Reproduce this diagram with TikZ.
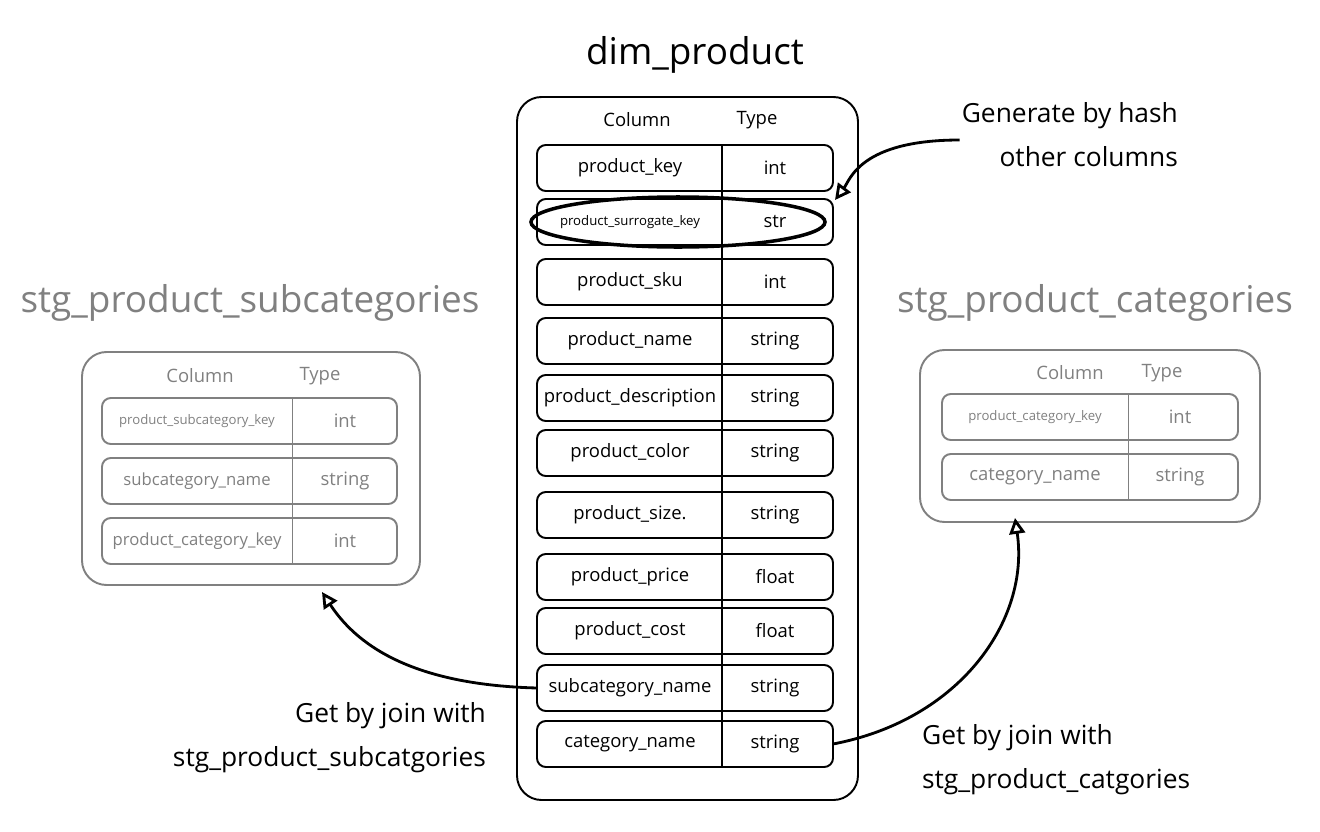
\documentclass[tikz,border=0pt]{standalone}
\usepackage{fontspec}
\setmainfont{Open Sans}
\usetikzlibrary{positioning, calc, arrows.meta}
\begin{document}
\begin{tikzpicture}[x=0.02cm, y=-0.02cm,
    every node/.style={inner sep=1pt},
    frame/.style={draw, rounded corners=14pt, line width=1.1pt},
    row/.style={draw, rounded corners=5pt, line width=1.1pt},
    title/.style={font=\fontsize{21}{24}\selectfont},
    cell/.style={font=\fontsize{10.5}{12}\selectfont},
    cellb/.style={font=\fontsize{9.5}{11}\selectfont},
    small/.style={font=\fontsize{7.5}{9}\selectfont},
    note/.style={font=\fontsize{15}{25}\selectfont, align=left},
    link/.style={line width=1.6pt, -{Triangle[open, length=9pt, width=9pt]}}]
  \useasboundingbox (0,0) rectangle (1320,832);

  % dim_product
  \node[title] (T) at (695,55) {dim\_product};
  \draw[frame] (517,97) rectangle (858,800);
  \node[cell] at (637,120) {Column};
  \node[cell] at (757,120) {Type};
  \foreach \y/\name/\type/\st [count=\i] in {
      168/product\_key/int/cell,
      222/product\_surrogate\_key/str/small,
      282/product\_sku/int/cell,
      341/product\_name/string/cell,
      398/product\_description/string/cell,
      453/product\_color/string/cell,
      515/product\_size./string/cell,
      577/product\_price/float/cell,
      631/product\_cost/float/cell,
      688/subcategory\_name/string/cell,
      744/category\_name/string/cell} {
    \draw[row] (537,\y-23) rectangle (833,\y+23);
    \node[\st] (P\i) at (630,\y) {\name};
    \node[cell] (Q\i) at (775,\y) {\type};
  }
  \draw[line width=1pt] (722,145) -- (722,768);
  \coordinate (PL) at (537,688);
  \coordinate (PR) at (833,744);

  % stg_product_subcategories
  \begin{scope}[gray]
    \node[title] (S) at (250,303) {stg\_product\_subcategories};
    \draw[frame] (82,352) rectangle (420,585);
    \node[cell] at (200,376) {Column};
    \node[cell] at (320,376) {Type};
    \foreach \y/\name/\type/\st [count=\i] in {
        421/product\_subcategory\_key/int/small,
        481/subcategory\_name/string/cellb,
        541/product\_category\_key/int/cellb} {
      \draw[row] (102,\y-23) rectangle (397,\y+23);
      \node[\st] (A\i) at (197,\y) {\name};
      \node[cell] (B\i) at (345,\y) {\type};
    }
    \draw (292,398) -- (292,564);
  \end{scope}
  \coordinate (SB) at (322,592);

  % stg_product_categories
  \begin{scope}[gray]
    \node[title] (C) at (1095,303) {stg\_product\_categories};
    \draw[frame] (920,350) rectangle (1260,522);
    \node[cell] at (1070,373) {Column};
    \node[cell] at (1162,373) {Type};
    \foreach \y/\name/\type/\st [count=\i] in {
        417/product\_category\_key/int/small,
        477/category\_name/string/cell} {
      \draw[row] (942,\y-23) rectangle (1238,\y+23);
      \node[\st] (C\i) at (1035,\y) {\name};
      \node[cell] (D\i) at (1180,\y) {\type};
    }
    \draw (1128,395) -- (1128,500);
  \end{scope}
  \coordinate (CB) at (1015,518);

  % notes
  \node[note, align=right, anchor=east] (N1) at (1180,135) {Generate by hash\\other columns};
  \node[note, align=right, anchor=east] (N2) at (488,738) {Get by join with\\stg\_product\_subcatgories};
  \node[note, anchor=west] (N3) at (920,760) {Get by join with\\stg\_product\_catgories};

  \draw[line width=2pt] (678,222) ellipse (147 and 25);
  \draw[link] (N1.west |- 0,140) .. controls (860,140) and (850,180) .. (835,200);
  \draw[link] (PL) .. controls (420,685) and (360,650) .. (SB);
  \draw[link] (PR) .. controls (960,720) and (1030,620) .. (CB);
\end{tikzpicture}
\end{document}
